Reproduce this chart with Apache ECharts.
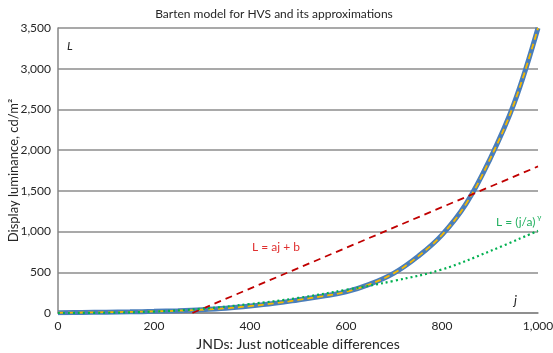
<!DOCTYPE html>
<html><head><meta charset="utf-8">
<script src="https://cdn.jsdelivr.net/npm/echarts@6/dist/echarts.min.js"></script>
<style>html,body{margin:0;padding:0;background:#fff}#c{width:553px;height:353px}</style>
</head><body><div id="c"></div>
<script>
// JND index
const bartenJ = [0, 50, 100, 150, 200, 250, 300, 350, 400, 450, 500, 550, 600, 650, 700, 750, 800, 850, 900, 950, 1000];
// Barten model luminance (cd/m2)
const bartenL = [3, 6, 10, 14, 20, 28, 40, 58, 85, 118, 160, 205, 260, 355, 490, 695, 960, 1340, 1890, 2570, 3500];
// Linear approximation L = aj + b
const linJ = [280, 1000];
const linL = [0, 1800];
// Power approximation L = (j/a)^gamma
const powJ = [0, 100, 200, 300, 400, 500, 600, 700, 800, 900, 1000];
const powL = [0, 3, 18, 52, 110, 185, 285, 395, 535, 760, 1010];
const yTicks = [0, 500, 1000, 1500, 2000, 2500, 3000, 3500];
const xTicks = [0, 200, 400, 600, 800, 1000];

const pair = (xs, ys) => xs.map((x, i) => [x, ys[i]]);
const fmt = v => String(v).replace(/\B(?=(\d{3})+(?!\d))/g, ',');
const F = 'Lato, "Open Sans", sans-serif';

const chart = echarts.init(document.getElementById('c'), null, {renderer: 'canvas'});
chart.setOption({
  animation: false,
  title: {text: 'Barten model for HVS and its approximations', left: 269, top: 3, textAlign: 'center',
    textStyle: {fontFamily: F, fontSize: 12, fontWeight: 'normal', color: '#262626'}},
  grid: {left: 58, right: 15, top: 28, bottom: 40, containLabel: false, outerBoundsMode: 'none'},
  xAxis: {type: 'value', min: 0, max: 1000, interval: 200,
    name: 'JNDs: Just noticeable differences', nameLocation: 'middle', nameGap: 24,
    nameTextStyle: {fontFamily: F, fontSize: 14, color: '#262626'},
    axisLine: {lineStyle: {color: '#868686', width: 1.5}}, axisTick: {show: false},
    axisLabel: {fontFamily: F, fontSize: 12, color: '#262626', margin: 7, formatter: fmt},
    splitLine: {show: false}},
  yAxis: {type: 'value', min: 0, max: 3500, interval: 500,
    name: 'Display luminance, cd/m²', nameLocation: 'middle', nameGap: 38, nameMoveOverlap: false,
    nameTextStyle: {fontFamily: F, fontSize: 13, color: '#262626'},
    axisLine: {show: true, lineStyle: {color: '#868686', width: 1.5}}, axisTick: {show: false},
    axisLabel: {fontFamily: F, fontSize: 12, color: '#262626', margin: 7, formatter: fmt},
    splitLine: {lineStyle: {color: '#8c8c8c', width: 1.5}}},
  series: [
    {type: 'line', data: pair(bartenJ, bartenL), smooth: 0.4, symbol: 'none',
      lineStyle: {color: '#4a7ebb', width: 5}, z: 2},
    {type: 'line', data: pair(bartenJ, bartenL), smooth: 0.4, symbol: 'none',
      lineStyle: {color: '#f5b800', width: 1.8, type: [6, 4]}, z: 3},
    {type: 'line', data: pair(linJ, linL), symbol: 'none',
      lineStyle: {color: '#c00000', width: 1.8, type: [7, 5]}, z: 4},
    {type: 'line', data: pair(powJ, powL), smooth: 0.4, symbol: 'none',
      lineStyle: {color: '#00b050', width: 2.2, type: [2, 3]}, z: 4}
  ],
  graphic: [
    {type: 'text', left: 67, top: 40, style: {text: 'L', font: 'italic 12px ' + F, fill: '#262626'}},
    {type: 'text', left: 514, top: 294, style: {text: 'j', font: 'italic 13px ' + F, fill: '#262626'}},
    {type: 'text', left: 252, top: 241, style: {text: 'L = aj + b', font: '12px ' + F, fill: '#e03030'}},
    {type: 'text', left: 496, top: 216, style: {text: 'L = (j/a)', font: '12px ' + F, fill: '#22b060'}},
    {type: 'text', left: 537, top: 213, style: {text: 'γ', font: '8px ' + F, fill: '#22b060'}}
  ]
});
</script></body></html>
